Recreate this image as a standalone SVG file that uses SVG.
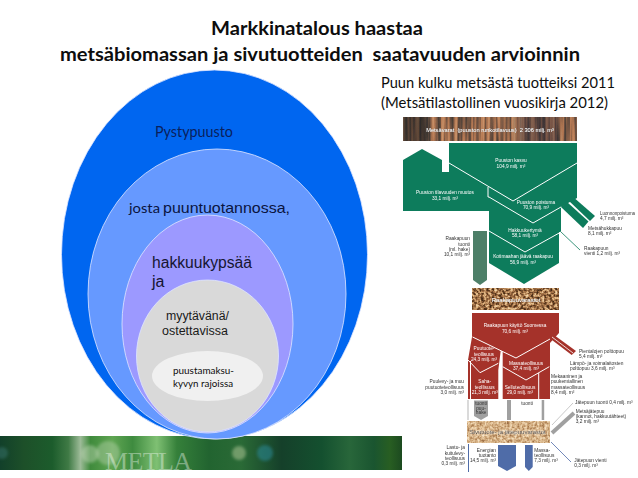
<svg xmlns="http://www.w3.org/2000/svg" width="638" height="478" viewBox="0 0 638 478">
<style>
.t{font-family:"Lato","Liberation Sans",sans-serif;fill:#0d0d0d}
.h{font-weight:700;font-size:18.500px}
.a{font-family:"Liberation Sans",Arial,sans-serif}
.e{stroke:#dfe6ff;stroke-width:.8}
.s{font-family:"Liberation Sans",Arial,sans-serif;font-size:4.8px;fill:#333}
.w{font-family:"Liberation Sans",Arial,sans-serif;font-size:4.8px;fill:#fff;text-anchor:middle}
.m{text-anchor:middle}.r{text-anchor:end}
.cut{fill:none;stroke:#fff;stroke-width:1}
.g{fill:#0e7b5c}.d{fill:#a5322a}.b{fill:#4f6ca8}.y{fill:#a0a0a0}
</style>
<defs>
<linearGradient id="band" x1="0" x2="1" y1="0" y2="0">
<stop offset="0" stop-color="#12402a"/><stop offset=".06" stop-color="#1d5029"/><stop offset=".13" stop-color="#1c5c2c"/>
<stop offset=".17" stop-color="#3f7a45"/><stop offset=".2" stop-color="#9dbb98"/><stop offset=".225" stop-color="#3f8a3c"/>
<stop offset=".28" stop-color="#5fa552"/><stop offset=".33" stop-color="#3e8b3f"/><stop offset=".39" stop-color="#7fc073"/>
<stop offset=".44" stop-color="#35803a"/><stop offset=".52" stop-color="#226430"/><stop offset=".6" stop-color="#2a6a36"/>
<stop offset=".7" stop-color="#15402a"/><stop offset=".8" stop-color="#14502f"/><stop offset=".87" stop-color="#28663a"/>
<stop offset=".93" stop-color="#1a5530"/><stop offset=".97" stop-color="#285e22"/><stop offset="1" stop-color="#1c4a20"/>
</linearGradient>
<linearGradient id="barkshade" x1="0" x2="1" y1="0" y2="0">
<stop offset="0" stop-color="#222" stop-opacity=".6"/><stop offset=".12" stop-color="#222" stop-opacity=".6"/>
<stop offset=".14" stop-color="#222" stop-opacity="0"/><stop offset=".62" stop-color="#222" stop-opacity="0"/>
<stop offset=".68" stop-color="#223" stop-opacity=".4"/><stop offset=".88" stop-color="#223" stop-opacity=".4"/>
<stop offset=".92" stop-color="#222" stop-opacity="0"/><stop offset="1" stop-color="#222" stop-opacity="0"/>
</linearGradient>
<filter id="bark" x="0" y="0" width="1" height="1" color-interpolation-filters="sRGB">
<feTurbulence type="fractalNoise" baseFrequency=".3 .012" numOctaves="2" seed="5"/>
<feColorMatrix type="matrix" values="1 0 0 0 0 1 0 0 0 0 1 0 0 0 0 0 0 0 0 1"/>
<feComponentTransfer>
<feFuncR type="table" tableValues=".2 .25 .45 .72 .8 .55"/>
<feFuncG type="table" tableValues=".19 .22 .33 .48 .6 .45"/>
<feFuncB type="table" tableValues=".2 .2 .26 .33 .44 .36"/>
</feComponentTransfer>
</filter>
<filter id="chip1" x="0" y="0" width="1" height="1" color-interpolation-filters="sRGB">
<feTurbulence type="fractalNoise" baseFrequency=".38" numOctaves="2" seed="8"/>
<feColorMatrix type="matrix" values="1 0 0 0 0 1 0 0 0 0 1 0 0 0 0 0 0 0 0 1"/>
<feComponentTransfer>
<feFuncR type="table" tableValues=".2 .22 .35 .65 .88 .95 .95"/>
<feFuncG type="table" tableValues=".12 .14 .22 .45 .72 .85 .85"/>
<feFuncB type="table" tableValues=".08 .08 .12 .28 .52 .7 .7"/>
</feComponentTransfer>
</filter>
<filter id="chip2" x="0" y="0" width="1" height="1" color-interpolation-filters="sRGB">
<feTurbulence type="fractalNoise" baseFrequency=".4" numOctaves="2" seed="3"/>
<feColorMatrix type="matrix" values="1 0 0 0 0 1 0 0 0 0 1 0 0 0 0 0 0 0 0 1"/>
<feComponentTransfer>
<feFuncR type="table" tableValues=".55 .62 .78 .9 .96 .98"/>
<feFuncG type="table" tableValues=".36 .44 .62 .78 .88 .92"/>
<feFuncB type="table" tableValues=".2 .28 .44 .62 .76 .84"/>
</feComponentTransfer>
</filter>
<filter id="soft" x="-5%" y="-5%" width="110%" height="110%"><feGaussianBlur stdDeviation=".28"/></filter>
<filter id="shadow" x="-10%" y="-40%" width="120%" height="180%"><feDropShadow dx="0" dy="0" stdDeviation=".7" flood-color="#222" flood-opacity=".9"/></filter>
<filter id="halo" x="-10%" y="-40%" width="120%" height="180%"><feDropShadow dx="0" dy="0" stdDeviation=".8" flood-color="#fff" flood-opacity="1"/></filter>
<filter id="bokeh" x="-30%" y="-30%" width="160%" height="160%"><feGaussianBlur stdDeviation="1.5"/></filter>
<clipPath id="bandclip"><rect x="0" y="436" width="402" height="34"/></clipPath>
</defs>
<rect width="638" height="478" fill="#fff"/>

<g id="title">
<text class="t h m" x="317" y="35" textLength="212" lengthAdjust="spacingAndGlyphs">Markkinatalous haastaa</text>
<text class="t h m" x="320" y="60.500" textLength="520" lengthAdjust="spacingAndGlyphs" xml:space="preserve">metsäbiomassan ja sivutuotteiden  saatavuuden arvioinnin</text>
</g>
<g id="subtitle">
<text class="t" x="381" y="88" font-size="15" textLength="234" lengthAdjust="spacingAndGlyphs">Puun kulku metsästä tuotteiksi 2011</text>
<text class="t" x="381" y="108" font-size="15" textLength="227" lengthAdjust="spacingAndGlyphs">(Metsätilastollinen vuosikirja 2012)</text>
</g>

<g id="banner" clip-path="url(#bandclip)">
<rect x="0" y="436" width="402" height="34" fill="url(#band)"/>
<circle cx="90" cy="454" r="9" fill="#cfe0c4" opacity=".4" filter="url(#bokeh)"/>
<circle cx="108" cy="453" r="12" fill="#cfe0c4" opacity=".35" filter="url(#bokeh)"/>
<circle cx="239" cy="453" r="7" fill="#c8d8a8" opacity=".45" filter="url(#bokeh)"/>
<circle cx="265" cy="453" r="8" fill="#2a8a9a" opacity=".55" filter="url(#bokeh)"/>
<circle cx="2" cy="453" r="6" fill="#4a8a8a" opacity=".35" filter="url(#bokeh)"/>
<text x="105" y="470" font-family="'Liberation Serif',serif" font-size="26" fill="#fff" fill-opacity=".38" textLength="87">METLA</text>
</g>

<g id="ellipse-pystypuusto">
<ellipse class="e" cx="214.500" cy="254.500" rx="153" ry="184.500" fill="#0066f0"/>
<text x="155" y="137" class="t" font-size="14.500" style="fill:#0a1f5c" textLength="78" lengthAdjust="spacingAndGlyphs">Pystypuusto</text>
</g>
<g id="ellipse-puuntuotanto">
<ellipse class="e" cx="217" cy="294" rx="129" ry="145" fill="#6699ff"/>
<text x="129" y="213" class="t" font-size="14" style="fill:#0a1440" textLength="31" lengthAdjust="spacingAndGlyphs">josta</text>
<text x="163" y="213" class="a" font-size="14.500" fill="#0a1440" textLength="127" lengthAdjust="spacingAndGlyphs">puuntuotannossa,</text>
</g>
<g id="ellipse-hakkuukypsa">
<ellipse class="e" cx="207.500" cy="324" rx="85.500" ry="109" fill="#9c99ff"/>
<text x="152" y="268" class="a" font-size="16" fill="#151530" textLength="100" lengthAdjust="spacingAndGlyphs">hakkuukypsää</text>
<text x="152" y="287" class="a" font-size="16" fill="#151530">ja</text>
</g>
<g id="ellipse-myytavana">
<ellipse class="e" cx="207.500" cy="356" rx="71" ry="76" fill="#d9d9d9"/>
<text x="166" y="320" class="a" font-size="12" fill="#1a1a1a" textLength="63" lengthAdjust="spacingAndGlyphs">myytävänä/</text>
<text x="162" y="335" class="a" font-size="12" fill="#1a1a1a" textLength="66" lengthAdjust="spacingAndGlyphs">ostettavissa</text>
</g>
<g id="ellipse-puustamaksu">
<ellipse cx="207.500" cy="376" rx="55.500" ry="25" fill="#f0f0f0"/>
<text x="173" y="374" class="t" font-size="9.500" textLength="61" lengthAdjust="spacingAndGlyphs">puustamaksu-</text>
<text x="173" y="387" class="t" font-size="9.500" textLength="60" lengthAdjust="spacingAndGlyphs">kyvyn rajoissa</text>
</g>

<g id="flow" filter="url(#soft)">
<g id="metsavarat">
<rect x="403" y="117" width="174" height="24" filter="url(#bark)"/>
<rect x="403" y="117" width="174" height="24" fill="url(#barkshade)"/>
<text class="w" x="490" y="131.500" style="font-size:5.700px" filter="url(#shadow)" xml:space="preserve">Metsävarat  (puuston runkotilavuus)  2 306 milj. m³</text>
</g>
<g id="raakapuuvarastot">
<rect x="472" y="288" width="87" height="22" filter="url(#chip1)"/>
<text class="w" x="516" y="301.500" style="font-size:6px" filter="url(#shadow)">Raakapuuvarastot</text>
</g>
<g id="sivutuotevarastot">
<rect x="467" y="421" width="83" height="22" filter="url(#chip2)"/>
<text class="s m" x="507.700" y="434" style="font-size:6px;fill:#222" filter="url(#halo)">Sivutuote- ja jätepuuvarastot</text>
</g>

<g id="connectors">
<g id="green-flow">
<polygon class="g" points="449,143 577,143 577,198 561,207 561,232 559,232 559,263 524,284 489,263 489,211 403,211 403,160 422,149 442,160 442,172 449,172"/>
<polygon class="g" points="572,196 595,216 590,221 568.500,200.500"/>
<polygon class="g" points="567,202 588.500,221.500 583,228 561,207"/>
<line x1="561" y1="232" x2="580" y2="250" stroke="#0e7b5c" stroke-width=".8"/>
<polygon fill="#4e7f68" points="473,231 487,231 487,280 480,285 473,280"/>
<polyline class="cut" points="449,163 513,201 577,163"/>
<polyline class="cut" points="488,187 488,197 489,197 533,223 561,207"/>
<polyline class="cut" points="489,231 525,252 561,232"/>
</g>
<g id="red-flow">
<polygon class="d" points="472,313 559,313 559,333 550,343 550,399 468,399 468,360 472,337"/>
<polygon fill="#fff" points="500.700,350.700 502.700,351.700 502.700,399 498.300,399 498.300,370"/>
<polygon class="d" points="554,335 576,351 571.700,355 550.700,339"/>
<line x1="552" y1="337" x2="573" y2="353" stroke="#fff" stroke-width=".8"/>
<polyline class="cut" points="472.600,337 516,358 550,339"/>
<polyline class="cut" points="468,360 480,372.700 498.300,363.300"/>
<line class="cut" x1="470.500" y1="361" x2="470.500" y2="399"/>
<polyline class="cut" points="502.700,366.700 526,380 549.300,366.700"/>
<line class="cut" x1="538.700" y1="373" x2="538.700" y2="399"/>
</g>
<g id="gray-flow">
<line x1="468" y1="400" x2="468" y2="420" stroke="#b5b5b5" stroke-width="1"/>
<polygon class="y" points="474,400.500 488,400.500 488,416 481,420 474,416"/>
<rect class="y" x="507" y="400" width="4" height="20"/>
<rect class="y" x="541.700" y="400" width="2.500" height="20"/>
<line x1="552" y1="425" x2="573" y2="403" stroke="#b0b0b0" stroke-width=".7"/>
<line x1="552" y1="433" x2="574" y2="413" stroke="#a0a0a0" stroke-width="4"/>
</g>
<g id="blue-flow">
<line x1="468.500" y1="444" x2="468.500" y2="472" stroke="#4f6ca8" stroke-width="1"/>
<polygon class="b" points="498,445 516,445 516,466 507,471 498,466"/>
<polygon class="b" points="525,445 532.700,445 532.700,467 528.800,471 525,467"/>
<line x1="551" y1="442" x2="571" y2="462" stroke="#4f6ca8" stroke-width=".8"/>
</g>
</g>

<g id="green-labels">
<text class="w" x="511" y="162">Puuston kasvu</text><text class="w" x="511" y="168">104,9 milj. m³</text>
<text class="w" x="445" y="194">Puuston tilavuuden muutos</text><text class="w" x="445" y="199.500">33,1 milj. m³</text>
<text class="w" x="536" y="203.500">Puuston poistuma</text><text class="w" x="536" y="209">70,9 milj. m³</text>
<text class="w" x="525" y="232">Hakkuukertymä</text><text class="w" x="525" y="237">58,1 milj. m³</text>
<text class="w" x="523" y="258">Kotimaahan jäävä raakapuu</text><text class="w" x="523" y="263.500">56,9 milj. m³</text>
<text class="s" x="600" y="214.500" textLength="35" lengthAdjust="spacingAndGlyphs">Luonnonpoistuma</text><text class="s" x="600" y="219.500">4,7 milj. m³</text>
<text class="s" x="588" y="230">Metsähukkapuu</text><text class="s" x="588" y="235">8,1 milj. m³</text>
<text class="s" x="584" y="250">Raakapuun</text><text class="s" x="584" y="255">vienti 1,2 milj. m³</text>
<text class="s r" x="470" y="240">Raakapuun</text><text class="s r" x="470" y="245.500">tuonti</text><text class="s r" x="470" y="251">(ml. hake)</text><text class="s r" x="470" y="256">10,1 milj. m³</text>
</g>
<g id="red-labels">
<text class="w" x="515" y="327">Raakapuun käyttö Suomessa</text><text class="w" x="515" y="332.700">70,6 milj. m³</text>
<text class="w" x="484" y="350">Puutuote-</text><text class="w" x="484" y="355.500">teollisuus</text><text class="w" x="484" y="361">24,3 milj. m³</text>
<text class="w" x="526" y="365">Massateollisuus</text><text class="w" x="526" y="370">37,4 milj. m³</text>
<text class="w" x="484.700" y="383.300">Saha-</text><text class="w" x="484.700" y="388.700">teollisuus</text><text class="w" x="484.700" y="394.300">21,3 milj. m³</text>
<text class="w" x="520" y="389">Selluteollisuus</text><text class="w" x="520" y="394.300">29,0 milj. m³</text>
<text class="s" x="579" y="352.700">Pientalojen polttopuu</text><text class="s" x="579" y="358">5,4 milj. m³</text>
<text class="s" x="570" y="365">Lämpö- ja voimalaitosten</text><text class="s" x="570" y="370.300">polttopuu 3,6 milj. m³</text>
<text class="s" x="551" y="377.700">Mekaaninen ja</text><text class="s" x="551" y="383.300">puukemiallinen</text><text class="s" x="551" y="388.700">massateollisuus</text><text class="s" x="551" y="394">8,4 milj. m³</text>
<text class="s r" x="464" y="383.300">Puulevy- ja muu</text><text class="s r" x="464" y="388.700">puutuoteteollisuus</text><text class="s r" x="464" y="394.300">3,0 milj. m³</text>
</g>
<g id="lower-labels">
<text class="s m" x="481" y="405">tuonti</text><text class="s m" x="481" y="409.500">puu-</text><text class="s m" x="481" y="414.300">hake</text>
<text class="s m" x="527" y="405">tuonti</text>
<text class="s" x="575" y="404">Jätepuun tuonti 0,4 milj. m³</text>
<text class="s" x="575.700" y="413">Metsäjätepuu</text><text class="s" x="575.700" y="418.300">(kannot, hakkuutähteet)</text><text class="s" x="575.700" y="423.300">3,2 milj. m³</text>
<text class="s r" x="465" y="449.300">Lastu- ja</text><text class="s r" x="465" y="454.700">kuitulevy-</text><text class="s r" x="465" y="460">teollisuus</text><text class="s r" x="465" y="465.300">0,3 milj. m³</text>
<text class="s r" x="496" y="452">Energian</text><text class="s r" x="496" y="457.300">tuotanto</text><text class="s r" x="496" y="462.300">14,5 milj. m³</text>
<text class="s" x="534.300" y="452">Massa-</text><text class="s" x="534.300" y="457.300">teollisuus</text><text class="s" x="534.300" y="462.300">7,3 milj. m³</text>
<text class="s" x="574.300" y="462">Jätepuun vienti</text><text class="s" x="574.300" y="467">0,3 milj. m³</text>
</g>
</g>
</svg>
